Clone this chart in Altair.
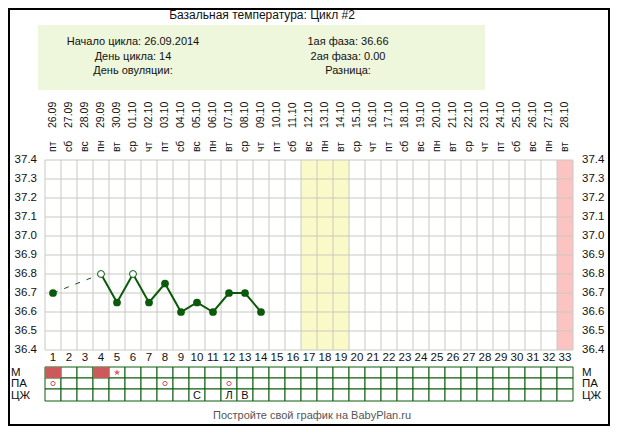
import altair as alt
import pandas as pd

# ---------------- data ----------------
days = list(range(1, 34))
dates = ["26.09", "27.09", "28.09", "29.09", "30.09", "01.10", "02.10", "03.10",
         "04.10", "05.10", "06.10", "07.10", "08.10", "09.10", "10.10", "11.10",
         "12.10", "13.10", "14.10", "15.10", "16.10", "17.10", "18.10", "19.10",
         "20.10", "21.10", "22.10", "23.10", "24.10", "25.10", "26.10", "27.10", "28.10"]
weekdays = ["пт", "сб", "вс", "пн", "вт", "ср", "чт", "пт", "сб", "вс", "пн",
            "вт", "ср", "чт", "пт", "сб", "вс", "пн", "вт", "ср", "чт", "пт",
            "сб", "вс", "пн", "вт", "ср", "чт", "пт", "сб", "вс", "пн", "вт"]

temp_days = [1, 4, 5, 6, 7, 8, 9, 10, 11, 12, 13, 14]
temps = [36.70, 36.80, 36.65, 36.80, 36.65, 36.75, 36.60, 36.65, 36.60, 36.70, 36.70, 36.60]
open_marker = [False, True, False, True, False, False, False, False, False, False, False, False]
dashed_days = [1, 4]
dashed_temps = [36.70, 36.80]

temp_ticks = ["36.4", "36.5", "36.6", "36.7", "36.8", "36.9", "37.0", "37.1", "37.2", "37.3", "37.4"]
yellow_days = [17, 18, 19]
pink_days = [33]

m_days = [1, 4]
m_star_days = [5]
pa_days = [1, 8, 12]
cm_days = [10, 12, 13]
cm_labels = ["С", "Л", "В"]
row_labels = ["М", "ПА", "ЦЖ"]

title_text = "Базальная температура: Цикл #2"
header_left = ["Начало цикла: 26.09.2014", "День цикла: 14", "День овуляции:"]
header_right = ["1ая фаза: 36.66", "2ая фаза: 0.00", "Разница:"]
footer_text = "Постройте свой график на BabyPlan.ru"

# ---------------- styles ----------------
FONT = "Liberation Sans"
GREEN = "#0b5a0b"
ROWGREEN = "#0a5c0a"
GRID = "#c9c9c0"
W, H = 528, 190
row_y = [(207, 218), (218, 229), (229, 241)]

xs = alt.Scale(domain=[0.5, 33.5], nice=False, zero=False)
ys = alt.Scale(domain=[36.4, 37.4], nice=False, zero=False)

def X(f):
    return alt.X(f, scale=xs, axis=None)

def Y(f):
    return alt.Y(f, scale=ys, axis=None)

one = pd.DataFrame({"k": [0]})
day_df = pd.DataFrame({"day": days, "date": dates, "wd": weekdays,
                       "x1": [d - 0.5 for d in days], "x2": [d + 0.5 for d in days]})
bounds_df = pd.DataFrame({"b": [d - 0.5 for d in days] + [days[-1] + 0.5]})
ticks_df = pd.DataFrame({"t": [float(t) for t in temp_ticks], "lab": temp_ticks})
temp_df = pd.DataFrame({"day": temp_days, "temp": temps, "open": open_marker})
solid_df = temp_df[temp_df["day"] >= dashed_days[-1]]
dash_df = pd.DataFrame({"day": dashed_days, "temp": dashed_temps})

layers = []

# header box
layers.append(alt.Chart(one).mark_rect(color="#eef6dc").encode(
    x=alt.value(-7), x2=alt.value(440), y=alt.value(-135), y2=alt.value(-70)))
layers.append(alt.Chart(one.assign(t=title_text)).mark_text(
    font=FONT, fontSize=12, color="#111").encode(
    text="t:N", x=alt.value(217), y=alt.value(-145)))
for i, (l, r) in enumerate(zip(header_left, header_right)):
    yy = -118 + i * 14.5
    layers.append(alt.Chart(one.assign(t=l)).mark_text(
        font=FONT, fontSize=11, color="#111").encode(
        text="t:N", x=alt.value(88), y=alt.value(yy)))
    layers.append(alt.Chart(one.assign(t=r)).mark_text(
        font=FONT, fontSize=11, color="#111").encode(
        text="t:N", x=alt.value(303), y=alt.value(yy)))

# highlighted columns
hl = pd.DataFrame({"x1": [d - 0.5 for d in yellow_days + pink_days],
                   "x2": [d + 0.5 for d in yellow_days + pink_days],
                   "kind": ["y"] * len(yellow_days) + ["p"] * len(pink_days)})
layers.append(alt.Chart(hl).mark_rect().encode(
    x=X("x1:Q"), x2="x2:Q", y=alt.value(0), y2=alt.value(H),
    fill=alt.Fill("kind:N", scale=alt.Scale(domain=["y", "p"], range=["#fafac8", "#fcc3c3"]), legend=None)))

# grid
layers.append(alt.Chart(bounds_df).mark_rule(color=GRID, strokeWidth=1).encode(
    x=X("b:Q"), y=alt.value(0), y2=alt.value(H)))
layers.append(alt.Chart(ticks_df).mark_rule(color=GRID, strokeWidth=1).encode(
    y=Y("t:Q"), x=alt.value(0), x2=alt.value(W)))

# temperature lines
layers.append(alt.Chart(dash_df).mark_line(color=GREEN, strokeWidth=1, strokeDash=[5, 7]).encode(
    x=X("day:Q"), y=Y("temp:Q")))
layers.append(alt.Chart(solid_df).mark_line(color=GREEN, strokeWidth=2).encode(
    x=X("day:Q"), y=Y("temp:Q")))
layers.append(alt.Chart(temp_df[~temp_df["open"]]).mark_point(
    shape="circle", filled=True, color=GREEN, size=60, opacity=1).encode(
    x=X("day:Q"), y=Y("temp:Q")))
layers.append(alt.Chart(temp_df[temp_df["open"]]).mark_point(
    shape="circle", filled=True, fill="white", stroke=GREEN, strokeWidth=1, size=48, opacity=1).encode(
    x=X("day:Q"), y=Y("temp:Q")))

# y labels (left / right)
layers.append(alt.Chart(ticks_df).mark_text(font=FONT, fontSize=11.5, align="right", color="#111").encode(
    y=Y("t:Q"), x=alt.value(-8), text="lab:N"))
layers.append(alt.Chart(ticks_df).mark_text(font=FONT, fontSize=11.5, align="left", color="#111").encode(
    y=Y("t:Q"), x=alt.value(W + 9), text="lab:N"))

# day numbers
layers.append(alt.Chart(day_df).mark_text(font=FONT, fontSize=11.5, color="#111").encode(
    x=X("day:Q"), y=alt.value(198), text="day:N"))

# dates and weekdays (vertical)
layers.append(alt.Chart(day_df).mark_text(font=FONT, fontSize=10.5, angle=270, align="left",
                                         baseline="middle", color="#111").encode(
    x=X("day:Q"), y=alt.value(-32), text="date:N"))
layers.append(alt.Chart(day_df).mark_text(font=FONT, fontSize=10.5, angle=270, align="left",
                                         baseline="middle", color="#111").encode(
    x=X("day:Q"), y=alt.value(-8), text="wd:N"))

# bottom rows grid
for (y0, y1) in row_y:
    layers.append(alt.Chart(day_df).mark_rect(fill="white", stroke=ROWGREEN, strokeWidth=1).encode(
        x=X("x1:Q"), x2="x2:Q", y=alt.value(y0), y2=alt.value(y1)))
m_df = pd.DataFrame({"x1": [d - 0.5 for d in m_days], "x2": [d + 0.5 for d in m_days]})
layers.append(alt.Chart(m_df).mark_rect(fill="#cd5a5a").encode(
    x=X("x1:Q"), x2="x2:Q", y=alt.value(row_y[0][0]), y2=alt.value(row_y[0][1])))
layers.append(alt.Chart(pd.DataFrame({"day": m_star_days})).mark_point(
    shape="M0,-1L0.24,-0.33L0.95,-0.31L0.38,0.12L0.59,0.81L0,0.4L-0.59,0.81L-0.38,0.12L-0.95,-0.31L-0.24,-0.33Z",
    filled=True, color="#e05a5a", size=45, opacity=1).encode(
    x=X("day:Q"), y=alt.value((row_y[0][0] + row_y[0][1]) / 2)))
layers.append(alt.Chart(pd.DataFrame({"day": pa_days})).mark_point(
    shape="circle", filled=False, color="#d05050", strokeWidth=1, size=18, opacity=1).encode(
    x=X("day:Q"), y=alt.value((row_y[1][0] + row_y[1][1]) / 2)))
layers.append(alt.Chart(pd.DataFrame({"day": cm_days, "lab": cm_labels})).mark_text(
    font=FONT, fontSize=11, color="#111").encode(
    x=X("day:Q"), y=alt.value((row_y[2][0] + row_y[2][1]) / 2 + 0.5), text="lab:N"))
for lab, (y0, y1) in zip(row_labels, row_y):
    yc = (y0 + y1) / 2 + 0.5
    layers.append(alt.Chart(one.assign(t=lab)).mark_text(
        font=FONT, fontSize=11.5, align="left", color="#111").encode(
        text="t:N", x=alt.value(-34), y=alt.value(yc)))
    layers.append(alt.Chart(one.assign(t=lab)).mark_text(
        font=FONT, fontSize=11.5, align="left", color="#111").encode(
        text="t:N", x=alt.value(W + 9), y=alt.value(yc)))

# footer
layers.append(alt.Chart(one.assign(t=footer_text)).mark_text(
    font=FONT, fontSize=11, color="#555").encode(
    text="t:N", x=alt.value(267), y=alt.value(256)))

# outer frame
layers.append(alt.Chart(one).mark_rect(fill=None, stroke="#000", strokeWidth=2).encode(
    x=alt.value(-36), x2=alt.value(W + 36), y=alt.value(-151), y2=alt.value(H + 75)))

chart = alt.layer(*layers).properties(
    width=W, height=H,
    autosize=alt.AutoSizeParams(type="none"),
    padding={"left": 37, "top": 152, "right": 37, "bottom": 76},
).configure_view(stroke=None)

chart.save("out.html", embed_options={"renderer": "svg", "actions": False})
